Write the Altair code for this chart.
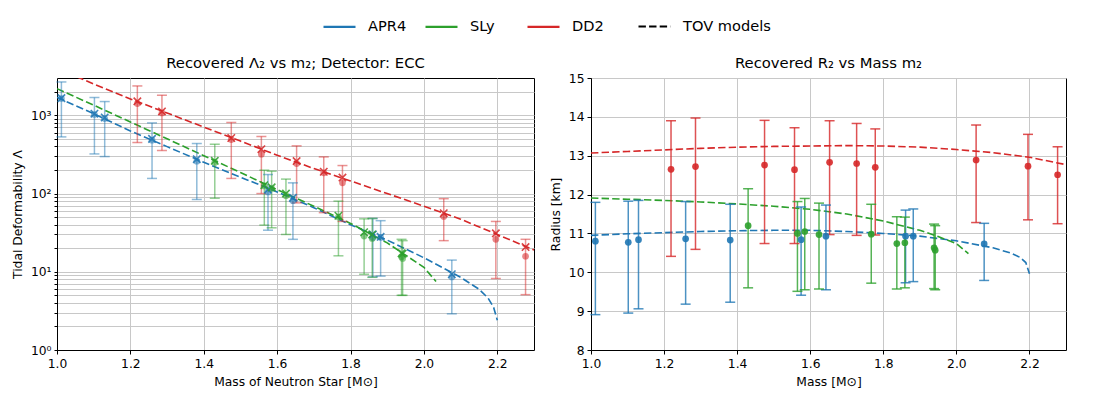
import altair as alt
import pandas as pd

eos_names = ["APR4", "SLy", "DD2"]
eos_colors = ["#1f77b4", "#2ca02c", "#d62728"]

# recovered values, one list per EOS
apr4_m = [1.012, 1.102, 1.130, 1.259, 1.381, 1.575, 1.643, 1.861, 1.882, 2.076]
apr4_lam = [1640, 1025, 910, 481, 259, 105, 81, 27.5, 27.5, 8.6]
apr4_lam_lo = [530, 321, 297, 156, 84, 34, 26, 8.6, 8.8, 2.9]
apr4_lam_hi = [2670, 1690, 1500, 800, 436, 175, 137, 48, 45, 14.1]
apr4_lam_inj = [1660, 1050, 940, 500, 275, 112, 88, 30, 28, 9.3]
apr4_r = [10.80, 10.77, 10.84, 10.86, 10.83, 10.84, 10.93, 10.93, 10.93, 10.73]
apr4_r_lo = [8.91, 8.95, 9.06, 9.18, 9.23, 9.41, 9.55, 9.73, 9.76, 9.79]
apr4_r_hi = [11.80, 11.83, 11.85, 11.82, 11.75, 11.68, 11.73, 11.60, 11.63, 11.26]

sly_m = [1.430, 1.565, 1.585, 1.624, 1.767, 1.837, 1.859, 1.939, 1.942]
sly_lam = [250, 125, 116, 94, 50, 28.6, 26.7, 15.6, 14.8]
sly_lam_lo = [87, 39.5, 36.5, 30, 16, 9.3, 8.5, 5.0, 5.0]
sly_lam_hi = [427, 199, 193, 153, 80, 47.5, 48, 26, 25]
sly_lam_inj = [262, 128, 120, 100, 52, 32, 30, 17.2, 17]
sly_r = [11.20, 11.00, 11.05, 10.97, 10.98, 10.74, 10.76, 10.63, 10.57]
sly_r_lo = [9.60, 9.51, 9.55, 9.57, 9.72, 9.57, 9.60, 9.58, 9.55]
sly_r_hi = [12.15, 11.82, 11.90, 11.78, 11.75, 11.43, 11.42, 11.24, 11.20]

dd2_m = [1.219, 1.286, 1.475, 1.557, 1.653, 1.727, 1.778, 2.054, 2.196, 2.277]
dd2_lam = [1413, 1074, 490, 319, 242, 184, 137, 51, 26, 15.8]
dd2_lam_lo = [449, 355, 156, 100, 76, 57, 44, 25, 8.2, 5.1]
dd2_lam_hi = [2375, 1806, 810, 536, 407, 294, 228, 86, 44, 26]
dd2_lam_inj = [1510, 1120, 513, 369, 260, 190, 160, 56, 31, 20.7]
dd2_r = [12.65, 12.72, 12.76, 12.64, 12.83, 12.80, 12.70, 12.89, 12.73, 12.51]
dd2_r_lo = [10.41, 10.59, 10.74, 10.74, 10.97, 10.95, 10.96, 11.28, 11.35, 11.25]
dd2_r_hi = [13.90, 13.97, 13.91, 13.72, 13.90, 13.83, 13.69, 13.79, 13.55, 13.23]

# TOV curves
apr4_tov_m = [1.0, 1.1, 1.2, 1.3, 1.4, 1.5, 1.6, 1.7, 1.8, 1.9, 2.0, 2.1, 2.15, 2.175, 2.19, 2.2]
apr4_tov_lam = [1698, 1047, 631, 398, 251, 162, 105, 66, 39.8, 25.4, 15.1, 8.5, 6.0, 4.6, 3.5, 2.4]
apr4_tov_r = [10.95, 10.99, 11.02, 11.05, 11.07, 11.08, 11.08, 11.05, 11.00, 10.93, 10.81, 10.63, 10.49, 10.38, 10.25, 9.96]

sly_tov_m = [1.0, 1.1, 1.2, 1.3, 1.4, 1.5, 1.6, 1.7, 1.8, 1.9, 1.95, 2.0, 2.033]
sly_tov_lam = [2188, 1349, 822, 501, 305, 186, 112, 69, 41.5, 23.4, 16.3, 11.4, 7.5]
sly_tov_r = [11.91, 11.88, 11.85, 11.81, 11.76, 11.70, 11.62, 11.50, 11.32, 11.08, 10.92, 10.74, 10.48]

dd2_tov_m = [1.0, 1.1, 1.2, 1.3, 1.4, 1.5, 1.6, 1.7, 1.8, 1.9, 2.0, 2.1, 2.2, 2.3]
dd2_tov_lam = [3981, 2512, 1622, 1072, 708, 468, 309, 209, 145, 100, 69, 47, 30, 19]
dd2_tov_r = [13.07, 13.11, 13.15, 13.19, 13.22, 13.24, 13.25, 13.26, 13.25, 13.22, 13.16, 13.08, 12.96, 12.77]

x_ticks = [1.0, 1.2, 1.4, 1.6, 1.8, 2.0, 2.2]
lam_ticks = [1, 2, 3, 4, 5, 6, 7, 8, 9, 10, 20, 30, 40, 50, 60, 70, 80, 90,
             100, 200, 300, 400, 500, 600, 700, 800, 900, 1000, 2000]
r_ticks = [8, 9, 10, 11, 12, 13, 14, 15]


def points(name, m, lam, lo, hi, inj, r, rlo, rhi):
    return pd.DataFrame({"eos": name, "m": m, "lam": lam, "lam_lo": lo, "lam_hi": hi,
                         "lam_inj": inj, "r": r, "r_lo": rlo, "r_hi": rhi})


pts = pd.concat([
    points("APR4", apr4_m, apr4_lam, apr4_lam_lo, apr4_lam_hi, apr4_lam_inj, apr4_r, apr4_r_lo, apr4_r_hi),
    points("SLy", sly_m, sly_lam, sly_lam_lo, sly_lam_hi, sly_lam_inj, sly_r, sly_r_lo, sly_r_hi),
    points("DD2", dd2_m, dd2_lam, dd2_lam_lo, dd2_lam_hi, dd2_lam_inj, dd2_r, dd2_r_lo, dd2_r_hi),
])

tov = pd.concat([
    pd.DataFrame({"eos": "APR4", "m": apr4_tov_m, "lam": apr4_tov_lam, "r": apr4_tov_r}),
    pd.DataFrame({"eos": "SLy", "m": sly_tov_m, "lam": sly_tov_lam, "r": sly_tov_r}),
    pd.DataFrame({"eos": "DD2", "m": dd2_tov_m, "lam": dd2_tov_lam, "r": dd2_tov_r}),
])
tov["kind"] = "TOV models"

legend_style = dict(
    title=None, orient="none", direction="horizontal", gridAlign="all",
    symbolType="stroke", symbolSize=1024, symbolStrokeWidth=2.2, symbolOpacity=1,
    labelFontSize=14.6, labelFont="DejaVu Sans", labelColor="black",
    columnPadding=14, labelOffset=11,
)
color = alt.Color("eos:N", scale=alt.Scale(domain=eos_names, range=eos_colors),
                  legend=alt.Legend(legendX=265, legendY=-69, **legend_style))
dash = alt.StrokeDash("kind:N", scale=alt.Scale(domain=["TOV models"], range=[[7.4, 3.2]]),
                      legend=alt.Legend(legendX=580, legendY=-69, symbolStrokeColor="black",
                                        **legend_style))

x_scale = alt.Scale(domain=[1.0, 2.3], nice=False, zero=False)
x_axis = alt.Axis(values=x_ticks, format=".1f", labelFlush=False)

# ---- left: tidal deformability
lam_scale = alt.Scale(type="log", domain=[1, 3000], nice=False)
lam_axis = alt.Axis(values=lam_ticks, tickSize=3, labelOverlap=False,
                    labelExpr="datum.value == 1 ? '10⁰' : datum.value == 10 ? '10¹' : "
                              "datum.value == 100 ? '10²' : datum.value == 1000 ? '10³' : ''")
lam_x = alt.X("m:Q", scale=x_scale, axis=x_axis, title="Mass of Neutron Star [M⊙]")


def lam_y(field):
    return alt.Y(field, scale=lam_scale, axis=lam_axis, title="Tidal Deformability Λ")


lam_line = alt.Chart(tov).mark_line(strokeWidth=1.6, clip=True).encode(
    x=lam_x, y=lam_y("lam:Q"), color=color, strokeDash=dash, detail="eos:N")
lam_bar = alt.Chart(pts).mark_rule(strokeWidth=1.5, opacity=0.5).encode(
    x=lam_x, y=lam_y("lam_lo:Q"), y2="lam_hi:Q", color=color)
lam_cap_lo = alt.Chart(pts).mark_tick(orient="horizontal", size=10, thickness=1.5, opacity=0.5).encode(
    x=lam_x, y=lam_y("lam_lo:Q"), color=color)
lam_cap_hi = alt.Chart(pts).mark_tick(orient="horizontal", size=10, thickness=1.5, opacity=0.5).encode(
    x=lam_x, y=lam_y("lam_hi:Q"), color=color)
lam_dot = alt.Chart(pts).mark_circle(size=45, opacity=0.55).encode(
    x=lam_x, y=lam_y("lam:Q"), color=color)
lam_inj = alt.Chart(pts).mark_point(shape="M-1,-1L1,1M-1,1L1,-1", size=55, strokeWidth=1.6,
                                     filled=False, opacity=0.85).encode(
    x=lam_x, y=lam_y("lam_inj:Q"), color=color)

left = alt.layer(lam_line, lam_bar, lam_cap_lo, lam_cap_hi, lam_dot, lam_inj).properties(
    width=477, height=272, title=alt.Title("Recovered Λ₂ vs m₂; Detector: ECC", offset=7))

# ---- right: radius
r_scale = alt.Scale(domain=[8, 15], nice=False, zero=False)
r_axis = alt.Axis(values=r_ticks, tickSize=4, labelOverlap=False)
r_x = alt.X("m:Q", scale=x_scale, axis=x_axis, title="Mass [M⊙]")


def r_y(field):
    return alt.Y(field, scale=r_scale, axis=r_axis, title="Radius [km]")


r_line = alt.Chart(tov).mark_line(strokeWidth=1.6, clip=True).encode(
    x=r_x, y=r_y("r:Q"), color=color, strokeDash=dash, detail="eos:N")
r_bar = alt.Chart(pts).mark_rule(strokeWidth=1.5, opacity=0.8).encode(
    x=r_x, y=r_y("r_lo:Q"), y2="r_hi:Q", color=color)
r_cap_lo = alt.Chart(pts).mark_tick(orient="horizontal", size=10, thickness=1.5, opacity=0.8).encode(
    x=r_x, y=r_y("r_lo:Q"), color=color)
r_cap_hi = alt.Chart(pts).mark_tick(orient="horizontal", size=10, thickness=1.5, opacity=0.8).encode(
    x=r_x, y=r_y("r_hi:Q"), color=color)
r_dot = alt.Chart(pts).mark_circle(size=45, opacity=0.9).encode(
    x=r_x, y=r_y("r:Q"), color=color)

# the top tick label pushes this title up, so it gets a smaller offset
right = alt.layer(r_line, r_bar, r_cap_lo, r_cap_hi, r_dot).properties(
    width=475, height=272, title=alt.Title("Recovered R₂ vs Mass m₂", offset=1))

chart = alt.hconcat(left, right, spacing=13).resolve_scale(color="shared", strokeDash="shared").properties(
    padding={"left": 2, "top": 1, "right": 5, "bottom": 5}
).configure_view(
    stroke="black", strokeWidth=1
).configure_axis(
    labelFont="DejaVu Sans", titleFont="DejaVu Sans", labelFontSize=12.3, titleFontSize=12.3,
    titleFontWeight="normal", labelColor="black", titleColor="black",
    tickColor="black", domainColor="black", gridColor="#c8c8c8", gridWidth=1,
    tickSize=4, labelPadding=3, titlePadding=6,
).configure_title(
    font="DejaVu Sans", fontSize=14.8, fontWeight="normal", color="black"
)

chart.save("out.html", embed_options={"renderer": "svg", "actions": False})
